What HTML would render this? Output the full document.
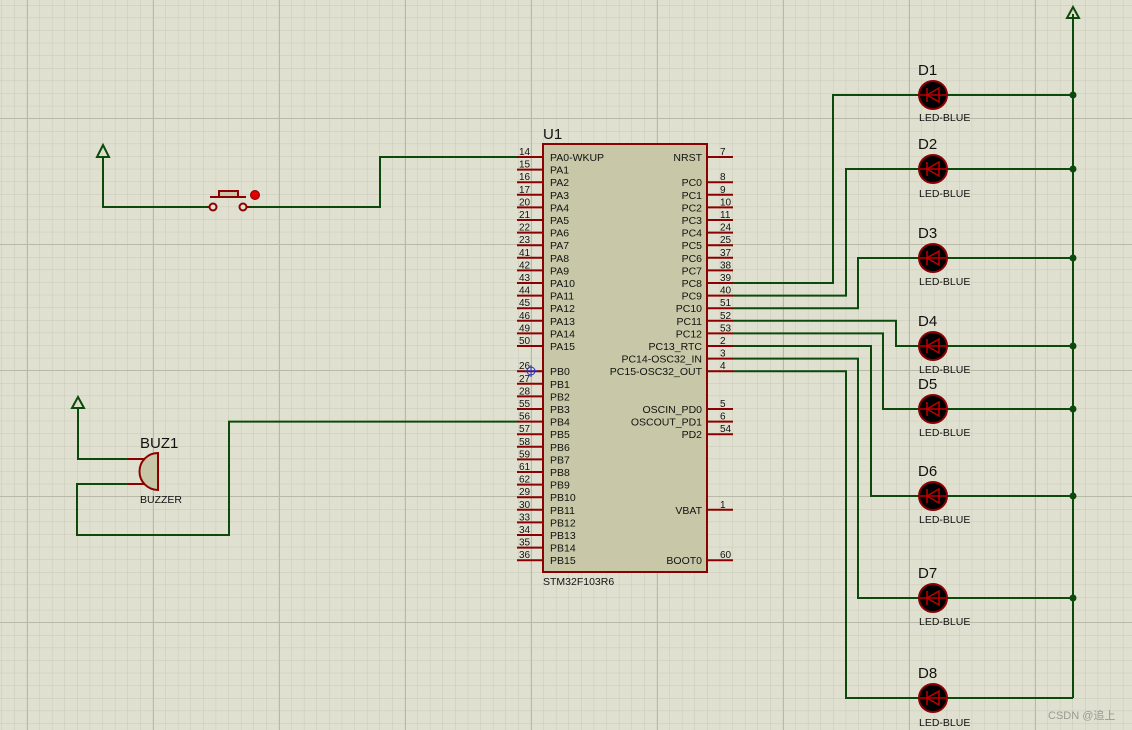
<!DOCTYPE html>
<html><head><meta charset="utf-8"><style>
html,body{margin:0;padding:0;background:#e0e0d0}
svg{display:block}
text{font-family:"Liberation Sans",Arial,sans-serif;fill:#111}
.w{stroke:#0b4a0b;stroke-width:2;fill:none}
.p{stroke:#8b0000;stroke-width:2;fill:none}
.l{font-size:10.5px}
.n{font-size:10px}
.r{text-anchor:end}
</style></head><body>
<svg width="1132" height="730" viewBox="0 0 1132 730" xmlns="http://www.w3.org/2000/svg">
<defs>
<pattern id="mn" x="1.5" y="5" width="12.6" height="12.6" patternUnits="userSpaceOnUse"><path d="M0 0V12.6M0 0H12.6" stroke="#c9c9b8" stroke-width="1" fill="none"/></pattern>
<pattern id="mj" x="27" y="118" width="126" height="126" patternUnits="userSpaceOnUse"><path d="M0 0V126M0 0H126" stroke="#b9b9a8" stroke-width="2" fill="none"/></pattern>
<g id="led"><line x1="-15" y1="0" x2="15" y2="0" class="p"/><circle r="14" fill="#000" stroke="#8b0000" stroke-width="2"/><line x1="-15" y1="0" x2="15" y2="0" stroke="#8b0000" stroke-width="2"/><path d="M6 -7 L-6 0 L6 7 Z" fill="none" stroke="#c00000" stroke-width="1.5"/><line x1="-6" y1="-7" x2="-6" y2="7" stroke="#c00000" stroke-width="1.5"/></g>
</defs>
<rect width="1132" height="730" fill="#e0e0d0"/>
<rect width="1132" height="730" fill="url(#mn)"/>
<rect width="1132" height="730" fill="url(#mj)"/>

<!-- chip -->
<rect x="543" y="144" width="164" height="428" fill="#c8c8a8" stroke="#8b0000" stroke-width="2"/>
<text x="543" y="139" style="font-size:15px">U1</text>
<text x="543" y="585" class="l">STM32F103R6</text>

<g class="p">
<path d="M517 157H543M517 169.6H543M517 182.2H543M517 194.8H543M517 207.4H543M517 220H543M517 232.6H543M517 245.2H543M517 257.8H543M517 270.4H543M517 283H543M517 295.6H543M517 308.2H543M517 320.8H543M517 333.4H543M517 346H543"/>
<path d="M517 371.2H543M517 383.8H543M517 396.4H543M517 409H543M517 421.6H543M517 434.2H543M517 446.8H543M517 459.4H543M517 472H543M517 484.6H543M517 497.2H543M517 509.8H543M517 522.4H543M517 535H543M517 547.6H543M517 560.2H543"/>
<path d="M707 157H733M707 182.2H733M707 194.8H733M707 207.4H733M707 220H733M707 232.6H733M707 245.2H733M707 257.8H733M707 270.4H733M707 283H733M707 295.6H733M707 308.2H733M707 320.8H733M707 333.4H733M707 346H733M707 358.6H733M707 371.2H733M707 409H733M707 421.6H733M707 434.2H733M707 509.8H733M707 560.2H733"/>
</g>

<g class="l">
<text x="550" y="161">PA0-WKUP</text><text x="550" y="173.6">PA1</text><text x="550" y="186.2">PA2</text><text x="550" y="198.8">PA3</text><text x="550" y="211.4">PA4</text><text x="550" y="224">PA5</text><text x="550" y="236.6">PA6</text><text x="550" y="249.2">PA7</text><text x="550" y="261.8">PA8</text><text x="550" y="274.4">PA9</text><text x="550" y="287">PA10</text><text x="550" y="299.6">PA11</text><text x="550" y="312.2">PA12</text><text x="550" y="324.8">PA13</text><text x="550" y="337.4">PA14</text><text x="550" y="350">PA15</text>
<text x="550" y="375.2">PB0</text><text x="550" y="387.8">PB1</text><text x="550" y="400.4">PB2</text><text x="550" y="413">PB3</text><text x="550" y="425.6">PB4</text><text x="550" y="438.2">PB5</text><text x="550" y="450.8">PB6</text><text x="550" y="463.4">PB7</text><text x="550" y="476">PB8</text><text x="550" y="488.6">PB9</text><text x="550" y="501.2">PB10</text><text x="550" y="513.8">PB11</text><text x="550" y="526.4">PB12</text><text x="550" y="539">PB13</text><text x="550" y="551.6">PB14</text><text x="550" y="564.2">PB15</text>
<g class="r">
<text x="702" y="161">NRST</text><text x="702" y="186.2">PC0</text><text x="702" y="198.8">PC1</text><text x="702" y="211.4">PC2</text><text x="702" y="224">PC3</text><text x="702" y="236.6">PC4</text><text x="702" y="249.2">PC5</text><text x="702" y="261.8">PC6</text><text x="702" y="274.4">PC7</text><text x="702" y="287">PC8</text><text x="702" y="299.6">PC9</text><text x="702" y="312.2">PC10</text><text x="702" y="324.8">PC11</text><text x="702" y="337.4">PC12</text><text x="702" y="350">PC13_RTC</text><text x="702" y="362.6">PC14-OSC32_IN</text><text x="702" y="375.2">PC15-OSC32_OUT</text><text x="702" y="413">OSCIN_PD0</text><text x="702" y="425.6">OSCOUT_PD1</text><text x="702" y="438.2">PD2</text><text x="702" y="513.8">VBAT</text><text x="702" y="564.2">BOOT0</text>
</g>
</g>
<g class="n">
<text x="519" y="155">14</text><text x="519" y="167.6">15</text><text x="519" y="180.2">16</text><text x="519" y="192.8">17</text><text x="519" y="205.4">20</text><text x="519" y="218">21</text><text x="519" y="230.6">22</text><text x="519" y="243.2">23</text><text x="519" y="255.8">41</text><text x="519" y="268.4">42</text><text x="519" y="281">43</text><text x="519" y="293.6">44</text><text x="519" y="306.2">45</text><text x="519" y="318.8">46</text><text x="519" y="331.4">49</text><text x="519" y="344">50</text>
<text x="519" y="369.2">26</text><text x="519" y="381.8">27</text><text x="519" y="394.4">28</text><text x="519" y="407">55</text><text x="519" y="419.6">56</text><text x="519" y="432.2">57</text><text x="519" y="444.8">58</text><text x="519" y="457.4">59</text><text x="519" y="470">61</text><text x="519" y="482.6">62</text><text x="519" y="495.2">29</text><text x="519" y="507.8">30</text><text x="519" y="520.4">33</text><text x="519" y="533">34</text><text x="519" y="545.6">35</text><text x="519" y="558.2">36</text>
<text x="720" y="155">7</text><text x="720" y="180.2">8</text><text x="720" y="192.8">9</text><text x="720" y="205.4">10</text><text x="720" y="218">11</text><text x="720" y="230.6">24</text><text x="720" y="243.2">25</text><text x="720" y="255.8">37</text><text x="720" y="268.4">38</text><text x="720" y="281">39</text><text x="720" y="293.6">40</text><text x="720" y="306.2">51</text><text x="720" y="318.8">52</text><text x="720" y="331.4">53</text><text x="720" y="344">2</text><text x="720" y="356.6">3</text><text x="720" y="369.2">4</text><text x="720" y="407">5</text><text x="720" y="419.6">6</text><text x="720" y="432.2">54</text><text x="720" y="507.8">1</text><text x="720" y="558.2">60</text>
</g>
<g stroke="#2030c0" stroke-width="1" fill="none"><circle cx="531" cy="371" r="4"/><path d="M525 371H537M531 365V377"/></g>

<!-- wires -->
<g class="w">
<path d="M103 157V207H207"/>
<path d="M250 207H380V157H517"/>
<path d="M78 408V459H128"/>
<path d="M128 484H77V535H229V421.6H517"/>
<path d="M1073 14V698"/>
<path d="M948 95H1073M948 169H1073M948 258H1073M948 346H1073M948 409H1073M948 496H1073M948 598H1073M948 698H1073"/>
<path d="M918 95H833V283H733"/>
<path d="M918 169H846V295.6H733"/>
<path d="M918 258H858V308.2H733"/>
<path d="M918 346H896V320.8H733"/>
<path d="M918 409H883V333.4H733"/>
<path d="M918 496H871V346H733"/>
<path d="M918 598H858V358.6H733"/>
<path d="M918 698H846V371.2H733"/>
</g>
<g fill="#0b4a0b">
<circle cx="1073" cy="95" r="3.5"/><circle cx="1073" cy="169" r="3.5"/><circle cx="1073" cy="258" r="3.5"/><circle cx="1073" cy="346" r="3.5"/><circle cx="1073" cy="409" r="3.5"/><circle cx="1073" cy="496" r="3.5"/><circle cx="1073" cy="598" r="3.5"/>
</g>
<!-- power arrows -->
<g stroke="#0b4a0b" stroke-width="2" fill="none">
<path d="M103 145L97 157H109Z"/>
<path d="M78 397L72 408H84Z"/>
<path d="M1073 7L1067 18H1079Z"/>
</g>

<!-- switch -->
<g class="p">
<path d="M207 207H209M246 207H250"/>
<circle cx="213" cy="207" r="3.5" fill="#e0e0d0"/><circle cx="243" cy="207" r="3.5" fill="#e0e0d0"/>
<path d="M210 197H246"/><rect x="219" y="191" width="19" height="6" fill="#c8c8a8"/>
</g>
<circle cx="255" cy="195" r="4.5" fill="#e00000" stroke="#8b0000" stroke-width="1"/>

<!-- buzzer -->
<g class="p">
<path d="M128 459H146M128 484H146"/>
<path d="M158 453V490 A18 18 0 0 1 158 453Z" fill="#c8c8a8"/>
</g>
<text x="140" y="448" style="font-size:15px">BUZ1</text>
<text x="140" y="503" class="l">BUZZER</text>

<!-- LEDs -->
<use href="#led" x="933" y="95"/><use href="#led" x="933" y="169"/><use href="#led" x="933" y="258"/><use href="#led" x="933" y="346"/><use href="#led" x="933" y="409"/><use href="#led" x="933" y="496"/><use href="#led" x="933" y="598"/><use href="#led" x="933" y="698"/>
<g style="font-size:15px">
<text x="918" y="75">D1</text><text x="918" y="149">D2</text><text x="918" y="238">D3</text><text x="918" y="326">D4</text><text x="918" y="389">D5</text><text x="918" y="476">D6</text><text x="918" y="578">D7</text><text x="918" y="678">D8</text>
</g>
<g class="l">
<text x="919" y="121">LED-BLUE</text><text x="919" y="197">LED-BLUE</text><text x="919" y="285">LED-BLUE</text><text x="919" y="373">LED-BLUE</text><text x="919" y="436">LED-BLUE</text><text x="919" y="523">LED-BLUE</text><text x="919" y="625">LED-BLUE</text><text x="919" y="726">LED-BLUE</text>
</g>
<text x="1048" y="719" style="font-size:11px;fill:#9a9a90;font-family:'Liberation Sans','Noto Sans CJK SC',sans-serif">CSDN @追上</text>
</svg>
</body></html>
